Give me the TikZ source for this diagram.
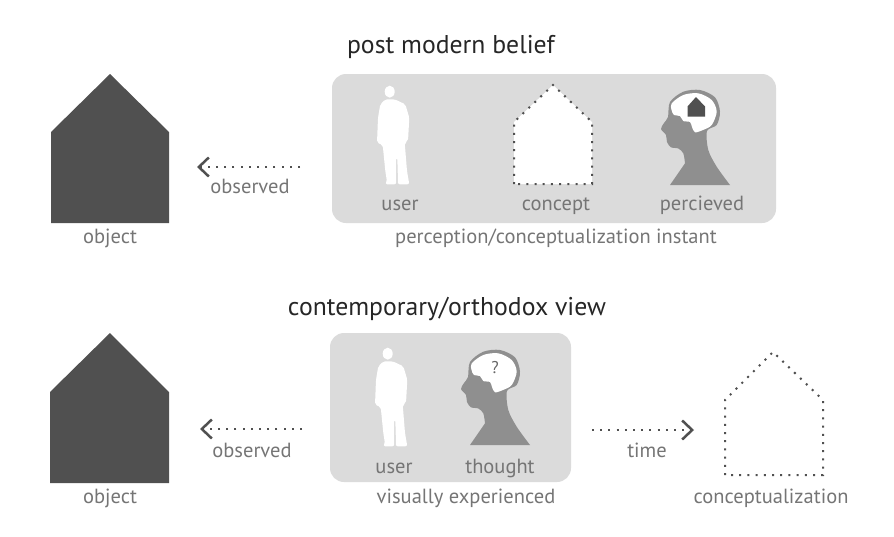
\documentclass[tikz,border=0pt]{standalone}
\usepackage{fontspec}
\setmainfont{PT Sans}
\usepackage{tikz}
\usetikzlibrary {
  arrows.meta,
  positioning,
}
\definecolor{housegray}{HTML}{505050}
\definecolor{panelgray}{HTML}{DBDBDB}
\definecolor{headgray}{HTML}{8F8F8F}
\definecolor{labelgray}{HTML}{757575}
\tikzset{
  title/.style = {
    anchor = base,
    text = black!85,
    font = \fontsize{25.7}{30}\selectfont
  },
  label/.style = {
    anchor = base,
    text = labelgray,
    font = \fontsize{20.5}{24}\selectfont
  },
  panel/.style = {
    rectangle,
    fill = panelgray,
    rounded corners = 14pt,
    minimum height = 149pt
  },
  solidhouse/.style = {
    fill = housegray
  },
  dotted house/.style = {
    draw = housegray,
    line width = 2pt,
    dash pattern = on 2pt off 6.2pt
  },
  flow/.style = {
    draw = housegray,
    line width = 2pt,
    dash pattern = on 2pt off 6.2pt,
    -{Straight Barb[length = 10pt, width = 19pt, line width = 2.5pt]}
  },
  person/.pic = {
    \fill[white] (12.7,5.7) ellipse (5 and 6);
    \fill[white, rounded corners = 2pt]
      (8.3,13.3) -- (3.3,18.3) -- (1,31.7) -- (0,56.7) -- (5.7,59)
      -- (8.3,85) -- (10,95.7) -- (8.3,98.3) -- (19.2,98.3) -- (19.2,71.7)
      -- (20.3,71.7) -- (21,95.7) -- (20.8,98.3) -- (32.3,98.3) -- (30,85)
      -- (27.7,56.7) -- (31,55) -- (32.3,31.7) -- (28.3,18.3) -- (17.7,13.3) -- cycle;
  },
  head/.pic = {
    \fill[headgray]
      (0,0) -- (15,-21.7) -- plot[smooth, tension = .5] coordinates {
        (15,-21.7) (13.3,-31.7) (8.3,-36.5) (1,-37.7) (-3,-43) (-4,-50) (-9,-56)
        (-6,-62) (-2,-68) (0,-83) (13.3,-93.3) (30,-95) (45,-87.7) (50,-73.3)
        (46.7,-60) (37,-54) (38.3,-35) (46.7,-18.3) (60,0)
      } -- cycle;
    \fill[white] plot[smooth cycle, tension = .5] coordinates {
        (1.7,-81.7) (13.3,-90) (28.3,-91.7) (41.7,-85) (46.7,-73.3)
        (41.7,-60) (33,-55) (25,-52.7) (22,-58) (20,-63) (13.3,-64)
        (10,-69) (4,-70) (1.5,-75)
      };
  },
}
\begin{document}
\begin{tikzpicture}[x = 1pt, y = -1pt]
  \useasboundingbox (0,0) rectangle (894,536);

  % post modern belief
  \node[title] (title1) at (451,53) {post modern belief};
  \fill[solidhouse] (51,223) -- (51,132) -- (110,74) -- (169,132) -- (169,223) -- cycle;
  \node[label] (object1) at (110,243) {object};
  \coordinate (from1) at (300,167);
  \coordinate (to1) at (197,167);
  \draw[flow] (from1) -- (to1);
  \node[label] (observed1) at (250,193) {observed};

  \node[panel, minimum width = 444pt] (panel1) at (554,148.5) {};
  \pic at (377,86) {person};
  \node[label] (user1) at (400,210) {user};
  \fill[white] (514,184) -- (514,122) -- (553,85) -- (592,122) -- (592,184) -- cycle;
  \draw[dotted house] (514,184) -- (514,122) -- (553,85) -- (592,122) -- (592,184) -- cycle;
  \node[label] (concept1) at (556,210) {concept};
  \pic at (670,185) {head};
  \fill[solidhouse] (687.5,116.5) -- (687.5,106.5) -- (696,97) -- (705,106.5) -- (705,116.5) -- cycle;
  \node[label] (percieved1) at (702,210) {percieved};
  \node[label] (instant1) at (556,243) {perception/conceptualization instant};

  % contemporary view
  \node[title] (title2) at (447,315) {contemporary/orthodox view};
  \fill[solidhouse] (50,483) -- (50,392) -- (110,333) -- (169,392) -- (169,483) -- cycle;
  \node[label] (object2) at (110,503) {object};
  \coordinate (from2) at (302,429);
  \coordinate (to2) at (200,429);
  \draw[flow] (from2) -- (to2);
  \node[label] (observed2) at (252,457) {observed};

  \node[panel, minimum width = 241pt] (panel2) at (450.5,407.5) {};
  \pic at (375,348) {person};
  \node[label] (user2) at (394,473) {user};
  \pic at (470,445) {head};
  \node[anchor = base, text = black!60, font = \fontsize{17}{20}\selectfont] (question) at (495,373) {?};
  \node[label] (thought) at (500,473) {thought};
  \node[label] (experienced) at (466,503) {visually experienced};

  \coordinate (from3) at (592,430);
  \coordinate (to3) at (694,430);
  \draw[flow] (from3) -- (to3);
  \node[label] (time) at (647,457) {time};
  \draw[dotted house] (725,475) -- (725,400) -- (773,352) -- (823,400) -- (823,475) -- cycle;
  \node[label] (conceptualization) at (771,503) {conceptualization};
\end{tikzpicture}
\end{document}
